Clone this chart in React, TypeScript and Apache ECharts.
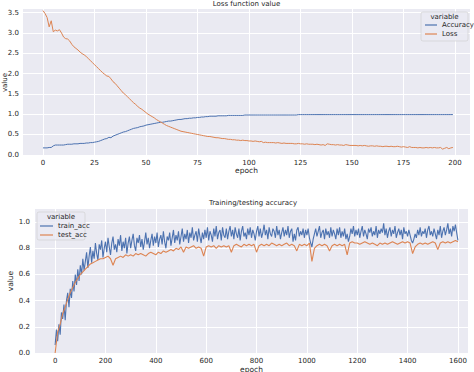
import React, { useEffect, useRef } from "react";
import * as echarts from "echarts";

// ---------- Top chart: Loss function value (epochs 0..199) ----------
const accuracyValues = [
  0.17, 0.17, 0.17, 0.18, 0.18, 0.22, 0.24, 0.24, 0.24, 0.24,
  0.24, 0.25, 0.26, 0.26, 0.26, 0.27, 0.27, 0.27, 0.28, 0.28,
  0.28, 0.29, 0.29, 0.30, 0.30, 0.31, 0.32, 0.33, 0.35, 0.37,
  0.39, 0.40, 0.43, 0.42, 0.46, 0.48, 0.50, 0.52, 0.54, 0.56,
  0.57, 0.59, 0.61, 0.63, 0.65, 0.66, 0.67, 0.69, 0.70, 0.71,
  0.73, 0.74, 0.75, 0.76, 0.77, 0.78, 0.79, 0.80, 0.80, 0.81,
  0.82, 0.83, 0.83, 0.84, 0.85, 0.86, 0.87, 0.87, 0.88, 0.89,
  0.89, 0.90, 0.90, 0.91, 0.91, 0.92, 0.92, 0.93, 0.93, 0.94,
  0.94, 0.95, 0.95, 0.95, 0.95, 0.96, 0.96, 0.96, 0.96, 0.96,
  0.97, 0.97, 0.97, 0.97, 0.97, 0.97, 0.97, 0.97, 0.98, 0.98,
  0.98, 0.98, 0.98, 0.98, 0.98, 0.98, 0.98, 0.98, 0.98, 0.98,
  0.98, 0.98, 0.98, 0.98, 0.98, 0.98, 0.98, 0.98, 0.98, 0.98,
  0.98, 0.98, 0.98, 0.98, 0.99, 0.99, 0.99, 0.99, 0.99, 0.99,
  0.99, 0.99, 0.99, 0.99, 0.99, 0.99, 0.99, 0.99, 0.99, 0.99,
  0.99, 0.99, 0.99, 0.99, 0.99, 0.99, 0.99, 0.99, 0.99, 0.99,
  0.99, 0.99, 0.99, 0.99, 0.99, 0.99, 0.99, 0.99, 0.99, 0.99,
  0.99, 0.99, 0.99, 0.99, 0.99, 0.99, 0.99, 0.99, 0.99, 0.99,
  0.99, 0.99, 0.99, 0.99, 0.99, 0.99, 0.99, 0.99, 0.99, 0.99,
  0.99, 0.99, 0.99, 0.99, 0.99, 0.99, 0.99, 0.99, 0.99, 0.99,
  0.99, 0.99, 0.99, 0.99, 0.99, 0.99, 0.99, 0.99, 0.99, 0.99,
];

const lossValues = [
  3.55, 3.48, 3.38, 3.15, 3.30, 3.03, 3.07, 3.05, 3.08, 3.00,
  2.90, 2.86, 2.85, 2.80, 2.72, 2.66, 2.62, 2.58, 2.53, 2.49,
  2.46, 2.42, 2.37, 2.32, 2.27, 2.22, 2.17, 2.12, 2.07, 2.02,
  1.98, 1.94, 1.93, 1.87, 1.80, 1.76, 1.70, 1.64, 1.58, 1.52,
  1.48, 1.43, 1.38, 1.33, 1.28, 1.24, 1.19, 1.15, 1.12, 1.08,
  1.04, 1.00, 0.97, 0.94, 0.91, 0.87, 0.84, 0.81, 0.78, 0.75,
  0.72, 0.70, 0.68, 0.66, 0.64, 0.62, 0.60, 0.58, 0.57, 0.56,
  0.55, 0.54, 0.53, 0.52, 0.51, 0.50, 0.49, 0.48, 0.47, 0.46,
  0.45, 0.45, 0.44, 0.43, 0.42, 0.42, 0.41, 0.40, 0.40, 0.39,
  0.38, 0.38, 0.37, 0.37, 0.36, 0.36, 0.35, 0.36, 0.35, 0.35,
  0.34, 0.34, 0.33, 0.34, 0.33, 0.32, 0.33, 0.30, 0.31, 0.30,
  0.30, 0.30, 0.30, 0.29, 0.30, 0.29, 0.28, 0.29, 0.28, 0.28,
  0.28, 0.28, 0.27, 0.27, 0.28, 0.27, 0.27, 0.26, 0.27, 0.26,
  0.26, 0.26, 0.25, 0.26, 0.25, 0.24, 0.25, 0.23, 0.27, 0.26,
  0.25, 0.25, 0.24, 0.25, 0.24, 0.24, 0.23, 0.25, 0.24, 0.23,
  0.23, 0.23, 0.23, 0.22, 0.23, 0.22, 0.23, 0.22, 0.21, 0.22,
  0.22, 0.21, 0.22, 0.21, 0.21, 0.20, 0.21, 0.21, 0.20, 0.21,
  0.20, 0.20, 0.21, 0.20, 0.19, 0.20, 0.19, 0.18, 0.20, 0.18,
  0.18, 0.18, 0.17, 0.18, 0.17, 0.17, 0.18, 0.17, 0.18, 0.17,
  0.18, 0.17, 0.17, 0.18, 0.14, 0.16, 0.18, 0.15, 0.17, 0.18,
];

const lossXTicks = [0, 25, 50, 75, 100, 125, 150, 175, 200];
const lossYTicks = [0, 0.5, 1, 1.5, 2, 2.5, 3, 3.5];

// ---------- Bottom chart: Training/testing accuracy ----------
const trainEpochStep = 5; // train_acc read every 5 epochs, 0..1600
const trainAcc = [
  0.06, 0.18, 0.09, 0.22, 0.14, 0.31, 0.26, 0.37, 0.25, 0.40, 0.46, 0.35, 0.49, 0.42, 0.55, 0.47, 0.60, 0.52, 0.64, 0.55,
  0.67, 0.60, 0.72, 0.63, 0.70, 0.77, 0.65, 0.74, 0.81, 0.69, 0.78, 0.72, 0.84, 0.76, 0.71, 0.83, 0.79, 0.86, 0.73, 0.80,
  0.85, 0.77, 0.88, 0.81, 0.75, 0.84, 0.89, 0.79, 0.83, 0.77, 0.87, 0.82, 0.90, 0.78, 0.85, 0.80, 0.88, 0.76, 0.84, 0.89,
  0.80, 0.86, 0.91, 0.82, 0.78, 0.88, 0.84, 0.90, 0.81, 0.87, 0.79, 0.85, 0.92, 0.83, 0.88, 0.80, 0.86, 0.91, 0.82, 0.89,
  0.84, 0.92, 0.81, 0.87, 0.90, 0.83, 0.93, 0.85, 0.80, 0.89, 0.86, 0.92, 0.82, 0.88, 0.94, 0.84, 0.90, 0.86, 0.93, 0.83,
  0.89, 0.95, 0.85, 0.91, 0.87, 0.94, 0.84, 0.92, 0.88, 0.96, 0.86, 0.90, 0.93, 0.85, 0.95, 0.89, 0.84, 0.92, 0.87, 0.94,
  0.88, 0.96, 0.86, 0.93, 0.90, 0.85, 0.95, 0.89, 0.97, 0.87, 0.92, 0.94, 0.86, 0.96, 0.90, 0.88, 0.95, 0.87, 0.93, 0.97,
  0.89, 0.94, 0.87, 0.96, 0.91, 0.88, 0.95, 0.86, 0.93, 0.97, 0.89, 0.92, 0.87, 0.95, 0.90, 0.96, 0.88, 0.94, 0.91, 0.86,
  0.93, 0.97, 0.89, 0.95, 0.88, 0.92, 0.98, 0.90, 0.94, 0.87, 0.96, 0.91, 0.89, 0.95, 0.93, 0.88, 0.97, 0.90, 0.94, 0.87,
  0.92, 0.96, 0.89, 0.94, 0.90, 0.97, 0.88, 0.93, 0.95, 0.85, 0.91, 0.86, 0.94, 0.96, 0.89, 0.93, 0.90, 0.95, 0.88, 0.94,
  0.90, 0.95, 0.88, 0.84, 0.81, 0.87, 0.91, 0.95, 0.89, 0.93, 0.97, 0.88, 0.92, 0.94, 0.87, 0.95, 0.90, 0.93, 0.88, 0.96,
  0.89, 0.94, 0.91, 0.87, 0.95, 0.90, 0.96, 0.88, 0.93, 0.89, 0.95, 0.87, 0.91, 0.85, 0.89, 0.95, 0.91, 0.97, 0.89, 0.94,
  0.90, 0.95, 0.88, 0.93, 0.97, 0.89, 0.94, 0.91, 0.87, 0.95, 0.92, 0.96, 0.89, 0.93, 0.90, 0.97, 0.88, 0.94, 0.91, 0.95,
  0.92, 0.99, 0.90, 0.95, 0.88, 0.93, 0.96, 0.89, 0.94, 0.91, 0.97, 0.88, 0.92, 0.95, 0.90, 0.94, 0.87, 0.96, 0.91, 0.93,
  0.89, 0.94, 0.90, 0.86, 0.84, 0.87, 0.91, 0.88, 0.94, 0.90, 0.96, 0.89, 0.93, 0.91, 0.95, 0.88, 0.94, 0.97, 0.90, 0.93,
  0.89, 0.95, 0.91, 0.87, 0.94, 0.90, 0.97, 0.88, 0.93, 0.96, 0.90, 0.94, 0.99, 0.91, 0.95, 0.89, 0.97, 0.93, 0.98, 0.92,
  0.86,
];
const testEpochStep = 10; // test_acc read every 10 epochs, 0..1600
const testAcc = [
  0.00, 0.16, 0.22, 0.30, 0.35, 0.41, 0.46, 0.50, 0.54, 0.57,
  0.60, 0.62, 0.64, 0.66, 0.68, 0.69, 0.70, 0.71, 0.72, 0.72,
  0.73, 0.74, 0.72, 0.67, 0.72, 0.73, 0.74, 0.73, 0.75, 0.74,
  0.75, 0.74, 0.76, 0.75, 0.76, 0.75, 0.74, 0.76, 0.77, 0.76,
  0.75, 0.77, 0.76, 0.78, 0.77, 0.78, 0.79, 0.78, 0.80, 0.79,
  0.81, 0.77, 0.81, 0.80, 0.81, 0.82, 0.80, 0.81, 0.80, 0.74,
  0.81, 0.82, 0.81, 0.82, 0.80, 0.82, 0.81, 0.82, 0.81, 0.82,
  0.77, 0.82, 0.83, 0.82, 0.81, 0.83, 0.82, 0.83, 0.82, 0.83,
  0.77, 0.82, 0.83, 0.82, 0.83, 0.82, 0.84, 0.83, 0.82, 0.83,
  0.82, 0.83, 0.84, 0.82, 0.83, 0.82, 0.78, 0.83, 0.82, 0.83,
  0.82, 0.84, 0.70, 0.80, 0.82, 0.83, 0.82, 0.83, 0.82, 0.78,
  0.82, 0.83, 0.82, 0.83, 0.82, 0.83, 0.75, 0.84, 0.85, 0.84,
  0.84, 0.83, 0.84, 0.85, 0.84, 0.83, 0.84, 0.83, 0.82, 0.84,
  0.83, 0.84, 0.83, 0.84, 0.85, 0.84, 0.83, 0.84, 0.85, 0.84,
  0.85, 0.84, 0.76, 0.81, 0.83, 0.84, 0.83, 0.84, 0.83, 0.84,
  0.85, 0.84, 0.79, 0.84, 0.85, 0.84, 0.85, 0.84, 0.85, 0.86,
  0.85,
];
const accXTicks = [0, 200, 400, 600, 800, 1000, 1200, 1400, 1600];
const accYTicks = [0, 0.2, 0.4, 0.6, 0.8, 1.0];

const BLUE = "#4C72B0";
const ORANGE = "#DD8452";
const BG = "#EAEAF2";
const TXT = "#262626";
const FONT = "DejaVu Sans";

function axisCommon(ticks: number[], fmt: (v: number) => string, margin: number) {
  return {
    axisLine: { show: false },
    axisTick: { show: false, customValues: ticks },
    axisLabel: {
      customValues: ticks,
      formatter: (v: number) => fmt(v),
      color: TXT,
      fontSize: 7,
      fontFamily: FONT,
      margin,
    },
    splitLine: { show: true, customValues: ticks, lineStyle: { color: "#ffffff", width: 1 } },
    nameTextStyle: { color: TXT, fontSize: 7.5, fontFamily: FONT },
  };
}

export default function App() {
  const ref = useRef<HTMLDivElement>(null);
  useEffect(() => {
    const chart = echarts.init(ref.current!, null, { renderer: "svg" });
    const accData = accuracyValues.map((v, i) => [i, v]);
    const lossData = lossValues.map((v, i) => [i, v]);
    const trainData = trainAcc.map((v, i) => [i * trainEpochStep, v]);
    const testData = testAcc.map((v, i) => [i * testEpochStep, v]);

    const option: any = {
      animation: false,
      backgroundColor: "#ffffff",
      textStyle: { fontFamily: FONT },
      grid: [
        { left: 23, top: 9, width: 447, height: 147, show: true, backgroundColor: BG, borderWidth: 0, containLabel: false, outerBoundsMode: "none" },
        { left: 35, top: 209, width: 433, height: 144, show: true, backgroundColor: BG, borderWidth: 0, containLabel: false, outerBoundsMode: "none" },
      ],
      xAxis: [
        {
          type: "value", gridIndex: 0, min: -9.7, max: 207.3,
          name: "epoch", nameLocation: "middle", nameGap: 10,
          ...axisCommon(lossXTicks, (v) => String(v), 3),
        },
        {
          type: "value", gridIndex: 1, min: -80, max: 1640,
          name: "epoch", nameLocation: "middle", nameGap: 12,
          ...axisCommon(accXTicks, (v) => String(v), 4),
        },
      ],
      yAxis: [
        {
          type: "value", gridIndex: 0, min: -0.03, max: 3.59,
          name: "value", nameLocation: "middle", nameGap: 15, nameMoveOverlap: false,
          ...axisCommon(lossYTicks, (v) => v.toFixed(1), 4),
          nameTextStyle: { color: TXT, fontSize: 7, fontFamily: FONT },
        },
        {
          type: "value", gridIndex: 1, min: 0, max: 1.1,
          name: "value", nameLocation: "middle", nameGap: 20.5, nameMoveOverlap: false,
          ...axisCommon(accYTicks, (v) => v.toFixed(1), 5),
        },
      ],
      legend: [
        {
          data: ["Accuracy", "Loss"], orient: "vertical", left: 425, top: 20.5,
          icon: "rect", itemWidth: 12, itemHeight: 1.2, itemGap: 0, padding: 0, z: 20,
          textStyle: { color: TXT, fontSize: 7, fontFamily: FONT, lineHeight: 9 },
        },
        {
          data: ["train_acc", "test_acc"], orient: "vertical", left: 40, top: 221.5,
          icon: "rect", itemWidth: 13, itemHeight: 1.2, itemGap: 0, padding: 0, z: 20,
          textStyle: { color: TXT, fontSize: 7, fontFamily: FONT, lineHeight: 9 },
        },
      ],
      graphic: [
        { type: "text", x: 246.5, y: 4, z: 20, style: { text: "Loss function value", fill: TXT, fontSize: 7, fontFamily: FONT, textAlign: "center", textVerticalAlign: "middle" } },
        { type: "text", x: 253, y: 203, z: 20, style: { text: "Training/testing accuracy", fill: TXT, fontSize: 7, fontFamily: FONT, textAlign: "center", textVerticalAlign: "middle" } },
        { type: "rect", z: 15, shape: { x: 421, y: 12, width: 47, height: 29, r: 2 }, style: { fill: "rgba(234,234,242,0.8)", stroke: "#cccccc", lineWidth: 0.6 } },
        { type: "text", x: 444.5, y: 16.5, z: 20, style: { text: "variable", fill: TXT, fontSize: 7, fontFamily: FONT, textAlign: "center", textVerticalAlign: "middle" } },
        { type: "rect", z: 15, shape: { x: 37, y: 212, width: 48, height: 28, r: 2 }, style: { fill: "rgba(234,234,242,0.8)", stroke: "#cccccc", lineWidth: 0.6 } },
        { type: "text", x: 61, y: 217, z: 20, style: { text: "variable", fill: TXT, fontSize: 7, fontFamily: FONT, textAlign: "center", textVerticalAlign: "middle" } },
      ],
      series: [
        { name: "Accuracy", type: "line", xAxisIndex: 0, yAxisIndex: 0, data: accData, showSymbol: false, symbol: "none", lineStyle: { color: BLUE, width: 1 }, itemStyle: { color: BLUE } },
        { name: "Loss", type: "line", xAxisIndex: 0, yAxisIndex: 0, data: lossData, showSymbol: false, symbol: "none", lineStyle: { color: ORANGE, width: 1 }, itemStyle: { color: ORANGE } },
        { name: "train_acc", type: "line", xAxisIndex: 1, yAxisIndex: 1, data: trainData, showSymbol: false, symbol: "none", lineStyle: { color: BLUE, width: 1.1 }, itemStyle: { color: BLUE } },
        { name: "test_acc", type: "line", xAxisIndex: 1, yAxisIndex: 1, data: testData, showSymbol: false, symbol: "none", lineStyle: { color: ORANGE, width: 1.1 }, itemStyle: { color: ORANGE } },
      ],
    };
    chart.setOption(option);
    return () => chart.dispose();
  }, []);
  return <div ref={ref} style={{ position: "absolute", left: 0, top: 0, width: 474, height: 372 }} />;
}
